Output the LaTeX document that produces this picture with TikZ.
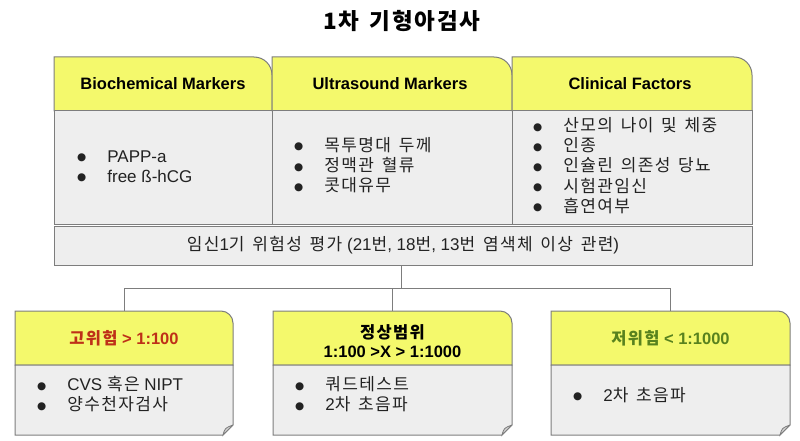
\documentclass[tikz,border=0pt]{standalone}
\usepackage{fontspec}
\setmainfont{Liberation Sans}
\newfontfamily\kr{Noto Sans CJK KR}[LetterSpace=8, WordSpace=1.5]
\newfontfamily\dv{DejaVu Sans}
\usepackage{tikz}
\usetikzlibrary{arrows}
\pgfdeclarelayer{edgelayer}
\pgfdeclarelayer{nodelayer}
\pgfsetlayers{edgelayer,nodelayer,main}
\definecolor{headyellow}{RGB}{244,249,108}
\definecolor{bodygray}{RGB}{238,238,238}
\definecolor{linegray}{RGB}{125,125,125}
\definecolor{foldgray}{RGB}{210,210,210}
\definecolor{textgray}{RGB}{34,34,34}
\definecolor{hired}{RGB}{190,48,24}
\definecolor{logreen}{RGB}{88,130,30}
\newcommand{\bul}{{\dv\fontsize{10.5}{20}\selectfont\raisebox{1.5pt}{●}}}
\tikzstyle{none}=[inner sep=0pt]
\tikzstyle{titletext}=[inner sep=0pt, font=\fontsize{22.5}{26}\selectfont\bfseries\kr]
\tikzstyle{headtext}=[inner sep=0pt, align=center, font=\fontsize{16.5}{19}\selectfont\bfseries]
\tikzstyle{listtext}=[inner sep=0pt, anchor=west, text=textgray, font=\fontsize{17}{20}\selectfont]
\tikzstyle{headfill}=[fill=headyellow, draw=linegray, line width=1pt]
\tikzstyle{bodyfill}=[fill=bodygray, draw=linegray, line width=1pt]
\tikzstyle{foldfill}=[fill=foldgray, draw=linegray, line width=0.8pt]
\tikzstyle{riskbox}=[fill=bodygray, draw=linegray, line width=1pt, inner sep=0pt, minimum width=698pt, minimum height=39pt, text=textgray, font=\fontsize{17}{20}\selectfont]
\tikzstyle{treeline}=[draw=linegray, line width=1pt]

\begin{document}
\begin{tikzpicture}[x=1pt, y=-1pt]
	\useasboundingbox (0,0) rectangle (800,441);
	\begin{pgfonlayer}{nodelayer}
		\node [style=titletext] (0) at (402, 21) {1차 기형아검사};
		\node [style=headtext] (1) at (163, 84) {Biochemical Markers};
		\node [style=headtext] (2) at (390, 84) {Ultrasound Markers};
		\node [style=headtext] (3) at (630, 84) {Clinical Factors};
		\node [style=listtext] (4) at (77, 168) {\begin{tabular}{@{}l@{\hspace{21pt}}l@{}}
			\bul & PAPP-a\\
			\bul & free ß-hCG
		\end{tabular}};
		\node [style=listtext] (5) at (294, 167.5) {\begin{tabular}{@{}l@{\hspace{21pt}}l@{}}
			\bul & {\kr 목투명대 두께}\\
			\bul & {\kr 정맥관 혈류}\\
			\bul & {\kr 콧대유무}
		\end{tabular}};
		\node [style=listtext] (6) at (533, 168) {\begin{tabular}{@{}l@{\hspace{21pt}}l@{}}
			\bul & {\kr 산모의 나이 및 체중}\\
			\bul & {\kr 인종}\\
			\bul & {\kr 인슐린 의존성 당뇨}\\
			\bul & {\kr 시험관임신}\\
			\bul & {\kr 흡연여부}
		\end{tabular}};
		\node [style=riskbox] (7) at (403, 245.5) {{\kr 임신}1{\kr 기 위험성 평가} (21{\kr 번}, 18{\kr 번}, 13{\kr 번 염색체 이상 관련})};
		\node [style=headtext, text=hired] (8) at (124, 338) {{\kr 고위험} > 1:100};
		\node [style=headtext] (9) at (392.5, 341) {{\kr 정상범위}\\1:100 >X > 1:1000};
		\node [style=headtext, text=logreen] (10) at (670.5, 338) {{\kr 저위험} < 1:1000};
		\node [style=listtext] (11) at (37, 396.5) {\begin{tabular}{@{}l@{\hspace{21pt}}l@{}}
			\bul & CVS {\kr 혹은} NIPT\\
			\bul & {\kr 양수천자검사}
		\end{tabular}};
		\node [style=listtext] (12) at (295, 396.5) {\begin{tabular}{@{}l@{\hspace{21pt}}l@{}}
			\bul & {\kr 쿼드테스트}\\
			\bul & 2{\kr 차 초음파}
		\end{tabular}};
		\node [style=listtext] (13) at (573, 397) {\begin{tabular}{@{}l@{\hspace{21pt}}l@{}}
			\bul & 2{\kr 차 초음파}
		\end{tabular}};
		\node [style=none] (14) at (401, 265) {};
		\node [style=none] (15) at (401, 288) {};
		\node [style=none] (16) at (124, 288) {};
		\node [style=none] (17) at (392.5, 288) {};
		\node [style=none] (18) at (670.5, 288) {};
		\node [style=none] (19) at (124, 311) {};
		\node [style=none] (20) at (392.5, 311) {};
		\node [style=none] (21) at (670.5, 311) {};
	\end{pgfonlayer}
	\begin{pgfonlayer}{edgelayer}
		% top row
		\draw [style=headfill] (54,111) -- (54,57) -- (254,57) .. controls (264,57) and (272,65) .. (272,75) -- (272,111) -- cycle;
		\draw [style=bodyfill] (54,111) rectangle (272,224);
		\draw [style=headfill] (272,111) -- (272,57) -- (494,57) .. controls (504,57) and (512,65) .. (512,75) -- (512,111) -- cycle;
		\draw [style=bodyfill] (272,111) rectangle (512,224);
		\draw [style=headfill] (512,111) -- (512,57) -- (734,57) .. controls (744,57) and (752,65) .. (752,75) -- (752,111) -- cycle;
		\draw [style=bodyfill] (512,111) rectangle (752,224);
		% bottom row
		\draw [style=headfill] (15,365) -- (15,311) -- (221,311) .. controls (227.6,311) and (233,316.4) .. (233,323) -- (233,365) -- cycle;
		\draw [style=bodyfill] (15,365) -- (233,365) -- (233,425) -- (223,435) -- (15,435) -- cycle;
		\draw [style=foldfill] (233,425) -- (223,435) .. controls (225,428) .. (233,425);
		\draw [style=headfill] (273,365) -- (273,311) -- (500,311) .. controls (506.6,311) and (512,316.4) .. (512,323) -- (512,365) -- cycle;
		\draw [style=bodyfill] (273,365) -- (512,365) -- (512,425) -- (502,435) -- (273,435) -- cycle;
		\draw [style=foldfill] (512,425) -- (502,435) .. controls (504,428) .. (512,425);
		\draw [style=headfill] (551,365) -- (551,311) -- (778,311) .. controls (784.6,311) and (790,316.4) .. (790,323) -- (790,365) -- cycle;
		\draw [style=bodyfill] (551,365) -- (790,365) -- (790,425) -- (780,435) -- (551,435) -- cycle;
		\draw [style=foldfill] (790,425) -- (780,435) .. controls (782,428) .. (790,425);
		% connectors
		\draw [style=treeline] (14.center) to (15.center);
		\draw [style=treeline] (16.center) to (18.center);
		\draw [style=treeline] (16.center) to (19.center);
		\draw [style=treeline] (17.center) to (20.center);
		\draw [style=treeline] (18.center) to (21.center);
	\end{pgfonlayer}
\end{tikzpicture}
\end{document}
